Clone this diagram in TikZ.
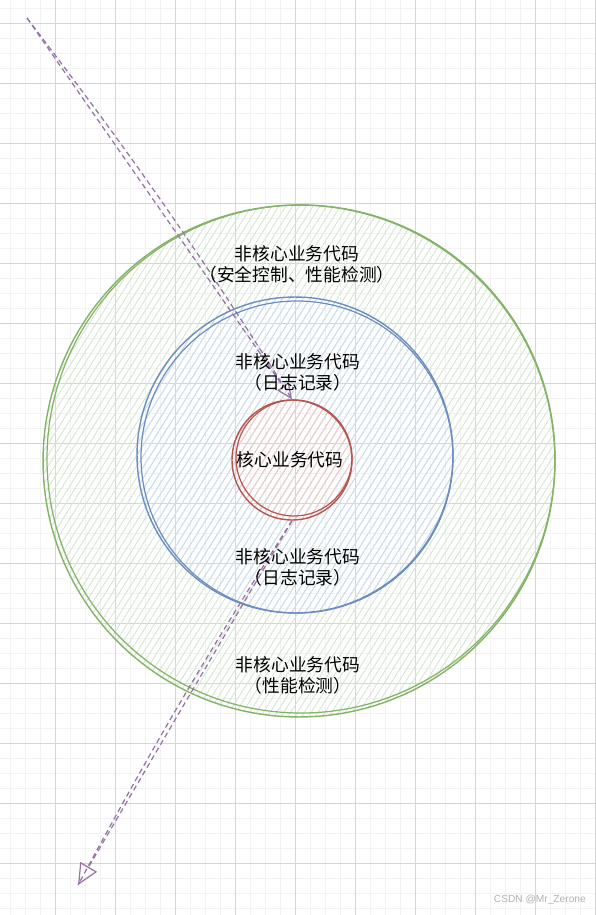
\documentclass[tikz,border=0pt]{standalone}
\usepackage{fontspec}
\setmainfont{Noto Sans CJK SC}
\newfontfamily\wmfont{Liberation Sans}
\usetikzlibrary{arrows.meta,patterns.meta}
\definecolor{gridmajor}{HTML}{D6D6D6}
\definecolor{gridminor}{HTML}{F2F2F2}
\definecolor{greenline}{HTML}{82B366}
\definecolor{greenhatch}{HTML}{D3E6CF}
\definecolor{blueline}{HTML}{6C8EBF}
\definecolor{bluehatch}{HTML}{CBDDF2}
\definecolor{redline}{HTML}{B85450}
\definecolor{redhatch}{HTML}{F3CAC8}
\definecolor{purpleline}{HTML}{9673A6}
\tikzset{
  ring/.style={circle, inner sep=0pt, line width=0.8pt},
  hatch/.style={pattern={Lines[angle=58,distance=3.3pt,line width=0.5pt]}, pattern color=#1},
  flow/.style={purpleline, line width=0.7pt, dash pattern=on 3pt off 2pt},
  txt/.style={font=\fontsize{10.1}{12}\selectfont, align=center}
}

\begin{document}
\begin{tikzpicture}[x=0.02cm,y=-0.02cm]
\useasboundingbox (0,0) rectangle (595,915);
% grid
\foreach \gx in {10,25,...,595} \draw[gridminor,line width=0.5pt] (\gx,0) -- (\gx,915);
\foreach \gy in {8,23,...,915} \draw[gridminor,line width=0.5pt] (0,\gy) -- (595,\gy);
\foreach \gx in {55,115,...,595} \draw[gridmajor,line width=0.5pt] (\gx,0) -- (\gx,915);
\foreach \gy in {23,83,...,915} \draw[gridmajor,line width=0.5pt] (0,\gy) -- (595,\gy);

% rings
\node[ring, draw=greenline, hatch=greenhatch, minimum size=10.24cm] (outer) at (299,461) {};
\draw[greenline, line width=0.7pt] (301,459) circle[radius=254];
\node[ring, draw=blueline, hatch=bluehatch, minimum size=6.32cm] (middle) at (295,455) {};
\draw[blueline, line width=0.7pt] (297,457) circle[radius=156];
\node[ring, draw=redline, hatch=redhatch, minimum size=2.4cm] (core) at (292,460) {};
\draw[redline, line width=0.7pt] (294,458) circle[radius=58];

% call path
\coordinate (start) at (27,18);
\coordinate (finish) at (78,885);
\draw[flow, -{Triangle[open,length=9pt,width=8pt]}] (start) -- (core.north);
\draw[flow] (start) to[bend left=2.5] (core.north);
\draw[flow, -{Triangle[open,length=12pt,width=11pt]}] (core.south) -- (finish);
\draw[flow] (core.south) to[bend right=2] (finish);

% texts
\node[txt] (outertop) at (297,264) {非核心业务代码\\（安全控制、性能检测）};
\node[txt] (middletop) at (298,372) {非核心业务代码\\（日志记录）};
\node[txt] (coretext) at (290,460) {核心业务代码};
\node[txt] (middlebottom) at (298,567) {非核心业务代码\\（日志记录）};
\node[txt] (outerbottom) at (298,675) {非核心业务代码\\（性能检测）};
\node[anchor=east, text=gray!60, font=\wmfont\fontsize{5.8}{7}\selectfont] (mark) at (592,900) {CSDN @Mr\_Zerone};
\end{tikzpicture}
\end{document}
